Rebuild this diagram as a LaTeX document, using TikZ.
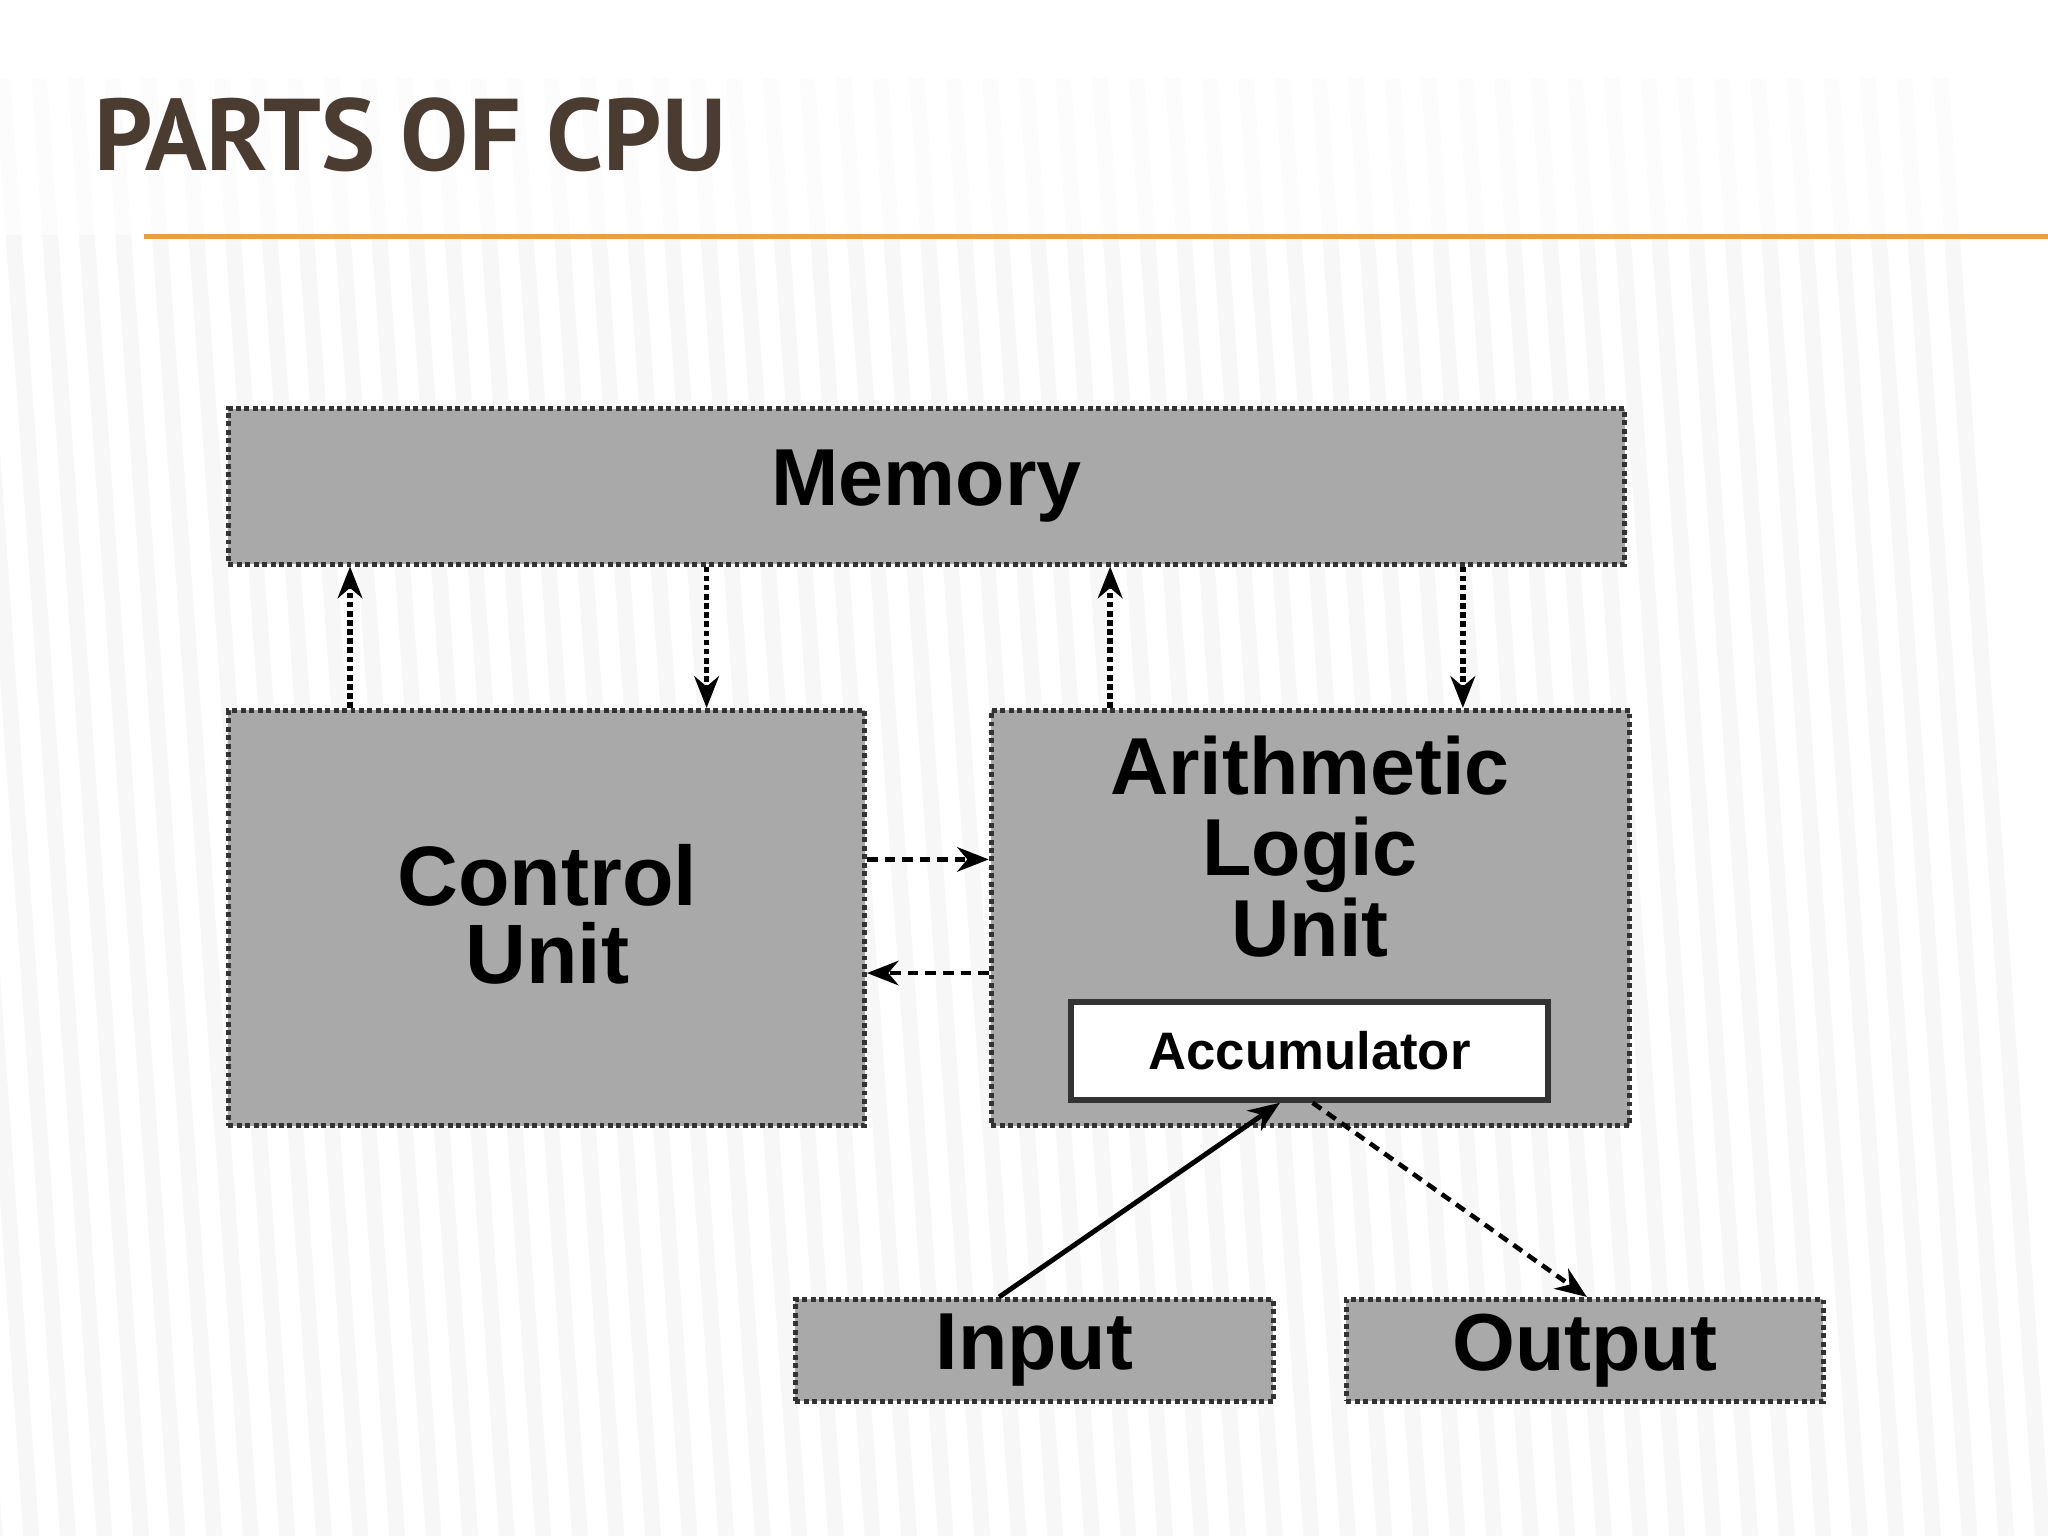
\documentclass[tikz,border=0pt]{standalone}
\usepackage{fontspec}
\setmainfont{Liberation Sans}
\newfontfamily\titlefont{PT Sans}
\usetikzlibrary{arrows.meta}
\definecolor{boxgray}{HTML}{A9A9A9}
\definecolor{titlebrown}{HTML}{4A3C30}
\definecolor{rule}{HTML}{E8A040}
\tikzset{
  blk/.style={draw=black!80, densely dotted, line width=1.4pt, fill=boxgray},
  lbl/.style={font=\bfseries\fontsize{23}{26}\selectfont, align=center},
  conn/.style={densely dotted, line width=1.6pt, -{Stealth[length=9pt,width=7pt]}},
}
\begin{document}
\begin{tikzpicture}[x=0.013061cm,y=-0.013061cm]
\useasboundingbox (0,0) rectangle (1568,1176);
\fill[white] (0,0) rectangle (1568,1176);
\foreach \i in {0,...,60} {
  \fill[black!3] (\i*28-200,60) -- (\i*28-188,60) -- (\i*28-110,1176) -- (\i*28-122,1176) -- cycle;
}
\fill[white, opacity=0.7] (0,0) rectangle (1568,180);
\node[anchor=west, text=titlebrown, inner sep=0] (title) at (72,103) {\titlefont\bfseries\fontsize{29}{34}\selectfont PARTS OF CPU};
\draw[rule, line width=1.2pt] (110,181) -- (1568,181);

\node[blk, minimum width=1069*0.013061cm, minimum height=119*0.013061cm, anchor=north west] (mem) at (173,311) {};
\node[lbl] at (mem.center) {Memory};
\node[blk, minimum width=487*0.013061cm, minimum height=318*0.013061cm, anchor=north west] (cu) at (173,542) {};
\node[lbl, font=\bfseries\fontsize{24}{22}\selectfont] at (419,700) {Control\\Unit};
\node[blk, minimum width=489*0.013061cm, minimum height=318*0.013061cm, anchor=north west] (alu) at (757,542) {};
\node[lbl, font=\bfseries\fontsize{23}{23}\selectfont] at (1003,648) {Arithmetic\\Logic\\Unit};
\node[draw=black!80, line width=1.6pt, fill=white, minimum width=365*0.013061cm, minimum height=75*0.013061cm, anchor=north west, font=\bfseries\fontsize{15}{18}\selectfont] (acc) at (818,765) {Accumulator};
\node[blk, minimum width=366*0.013061cm, minimum height=78*0.013061cm, anchor=north west] (in) at (607,993) {};
\node[lbl] at (in.center) {Input};
\node[blk, minimum width=365*0.013061cm, minimum height=78*0.013061cm, anchor=north west] (out) at (1029,993) {};
\node[lbl] at (out.center) {Output};

\draw[conn] (cu.north west -| 268,0) -- (mem.south west -| 268,0);
\draw[conn] (mem.south west -| 541,0) -- (cu.north west -| 541,0);
\draw[conn] (alu.north west -| 850,0) -- (mem.south west -| 850,0);
\draw[conn] (mem.south west -| 1120,0) -- (alu.north west -| 1120,0);
\draw[conn, densely dashed, line width=1.2pt] (cu.east |- 0,658) -- (alu.west |- 0,658);
\draw[conn, densely dashed, line width=1.2pt] (alu.west |- 0,745) -- (cu.east |- 0,745);
\draw[line width=1.4pt, -{Stealth[length=9pt,width=7pt]}] (in.north west -| 765,0) -- (acc.south west -| 980,0);
\draw[conn, densely dashed, line width=1.3pt] (acc.south west -| 1005,0) -- (out.north west -| 1215,0);
\end{tikzpicture}
\end{document}
